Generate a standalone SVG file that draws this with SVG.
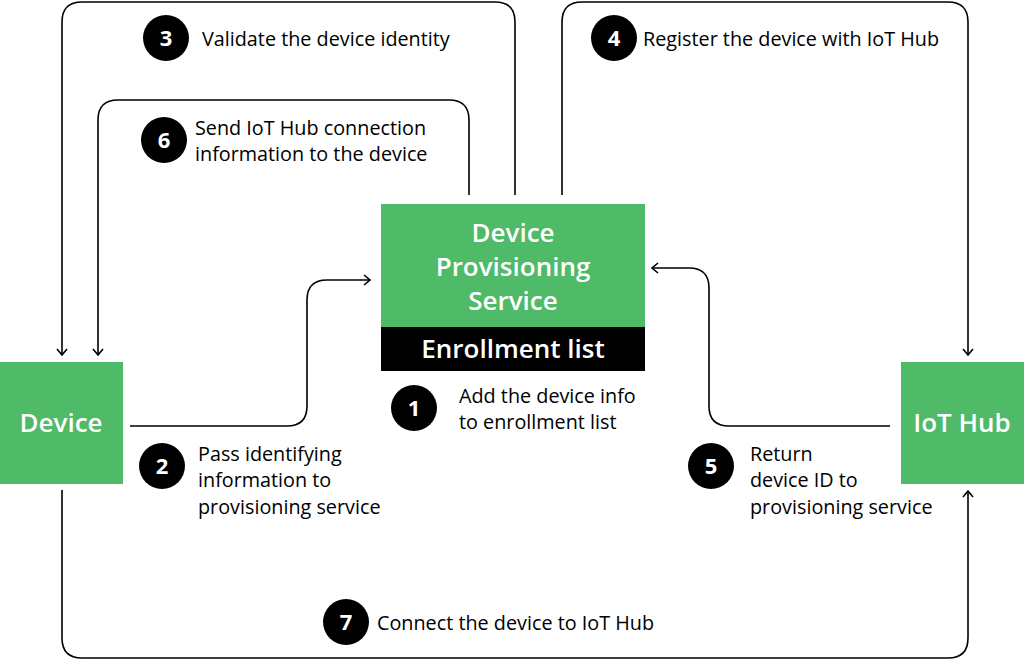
<svg xmlns="http://www.w3.org/2000/svg" width="1024" height="660" viewBox="0 0 1024 660">
<style>
.box{fill:#4fba68}
.lbl{fill:#fff;font-family:"Open Sans","Noto Sans",sans-serif;font-weight:600;font-size:26px;text-anchor:middle}
.txt{fill:#000;font-family:"Open Sans","Noto Sans",sans-serif;font-size:19.8px}
.num{fill:#fff;font-family:"Open Sans","Noto Sans",sans-serif;font-weight:700;font-size:22px;text-anchor:middle}
.c{fill:#000}
.ln{fill:none;stroke:#000;stroke-width:1.6;marker-end:url(#arr)}
</style>
<defs>
<marker id="arr" viewBox="0 0 12 12" refX="11" refY="6" markerWidth="12" markerHeight="12" markerUnits="userSpaceOnUse" orient="auto">
<path d="M5,1 L11,6 L5,11" fill="none" stroke="#000" stroke-width="1.6"/>
</marker>
</defs>
<rect width="1024" height="660" fill="#fff"/>
<g id="connectors">
<path class="ln" d="M515,195 V22 Q515,2 495,2 H82 Q62,2 62,22 V355"/>
<path class="ln" d="M469,195 V120 Q469,100 449,100 H118 Q98,100 98,120 V355"/>
<path class="ln" d="M562,195 V22 Q562,2 582,2 H948 Q968,2 968,22 V355"/>
<path class="ln" d="M130,426 H287 Q307,426 307,406 V300 Q307,280 327,280 H370"/>
<path class="ln" d="M890,426 H729 Q709,426 709,406 V288 Q709,268 689,268 H652"/>
<path class="ln" d="M62,490 V638 Q62,658 82,658 H948 Q968,658 968,638 V491"/>
</g>
<g id="device">
<rect class="box" x="0" y="362" width="123" height="122"/>
<text class="lbl" x="61" y="432">Device</text>
</g>
<g id="dps">
<rect class="box" x="381" y="204" width="264" height="123"/>
<rect x="381" y="327" width="264" height="44" fill="#000"/>
<text class="lbl" x="513" y="242">Device</text>
<text class="lbl" x="513" y="276">Provisioning</text>
<text class="lbl" x="513" y="310">Service</text>
<text class="lbl" x="513" y="358">Enrollment list</text>
</g>
<g id="iothub">
<rect class="box" x="901" y="362" width="123" height="122"/>
<text class="lbl" x="962" y="432">IoT Hub</text>
</g>
<g id="step1">
<circle class="c" cx="414" cy="408" r="23"/><text class="num" x="414" y="416">1</text>
<text class="txt" x="459" y="403">Add the device info</text>
<text class="txt" x="459" y="429">to enrollment list</text>
</g>
<g id="step2">
<circle class="c" cx="162" cy="466" r="23"/><text class="num" x="162" y="474">2</text>
<text class="txt" x="198" y="461">Pass identifying</text>
<text class="txt" x="198" y="487">information to</text>
<text class="txt" x="198" y="514">provisioning service</text>
</g>
<g id="step3">
<circle class="c" cx="166" cy="38" r="23"/><text class="num" x="166" y="46">3</text>
<text class="txt" x="202" y="46">Validate the device identity</text>
</g>
<g id="step4">
<circle class="c" cx="614" cy="38" r="23"/><text class="num" x="614" y="46">4</text>
<text class="txt" x="643" y="46">Register the device with IoT Hub</text>
</g>
<g id="step5">
<circle class="c" cx="711" cy="466" r="23"/><text class="num" x="711" y="474">5</text>
<text class="txt" x="750" y="461">Return</text>
<text class="txt" x="750" y="487">device ID to</text>
<text class="txt" x="750" y="514">provisioning service</text>
</g>
<g id="step6">
<circle class="c" cx="164" cy="140" r="23"/><text class="num" x="164" y="148">6</text>
<text class="txt" x="195" y="135">Send IoT Hub connection</text>
<text class="txt" x="195" y="161">information to the device</text>
</g>
<g id="step7">
<circle class="c" cx="346" cy="622" r="23"/><text class="num" x="346" y="630">7</text>
<text class="txt" x="377" y="630">Connect the device to IoT Hub</text>
</g>
</svg>
